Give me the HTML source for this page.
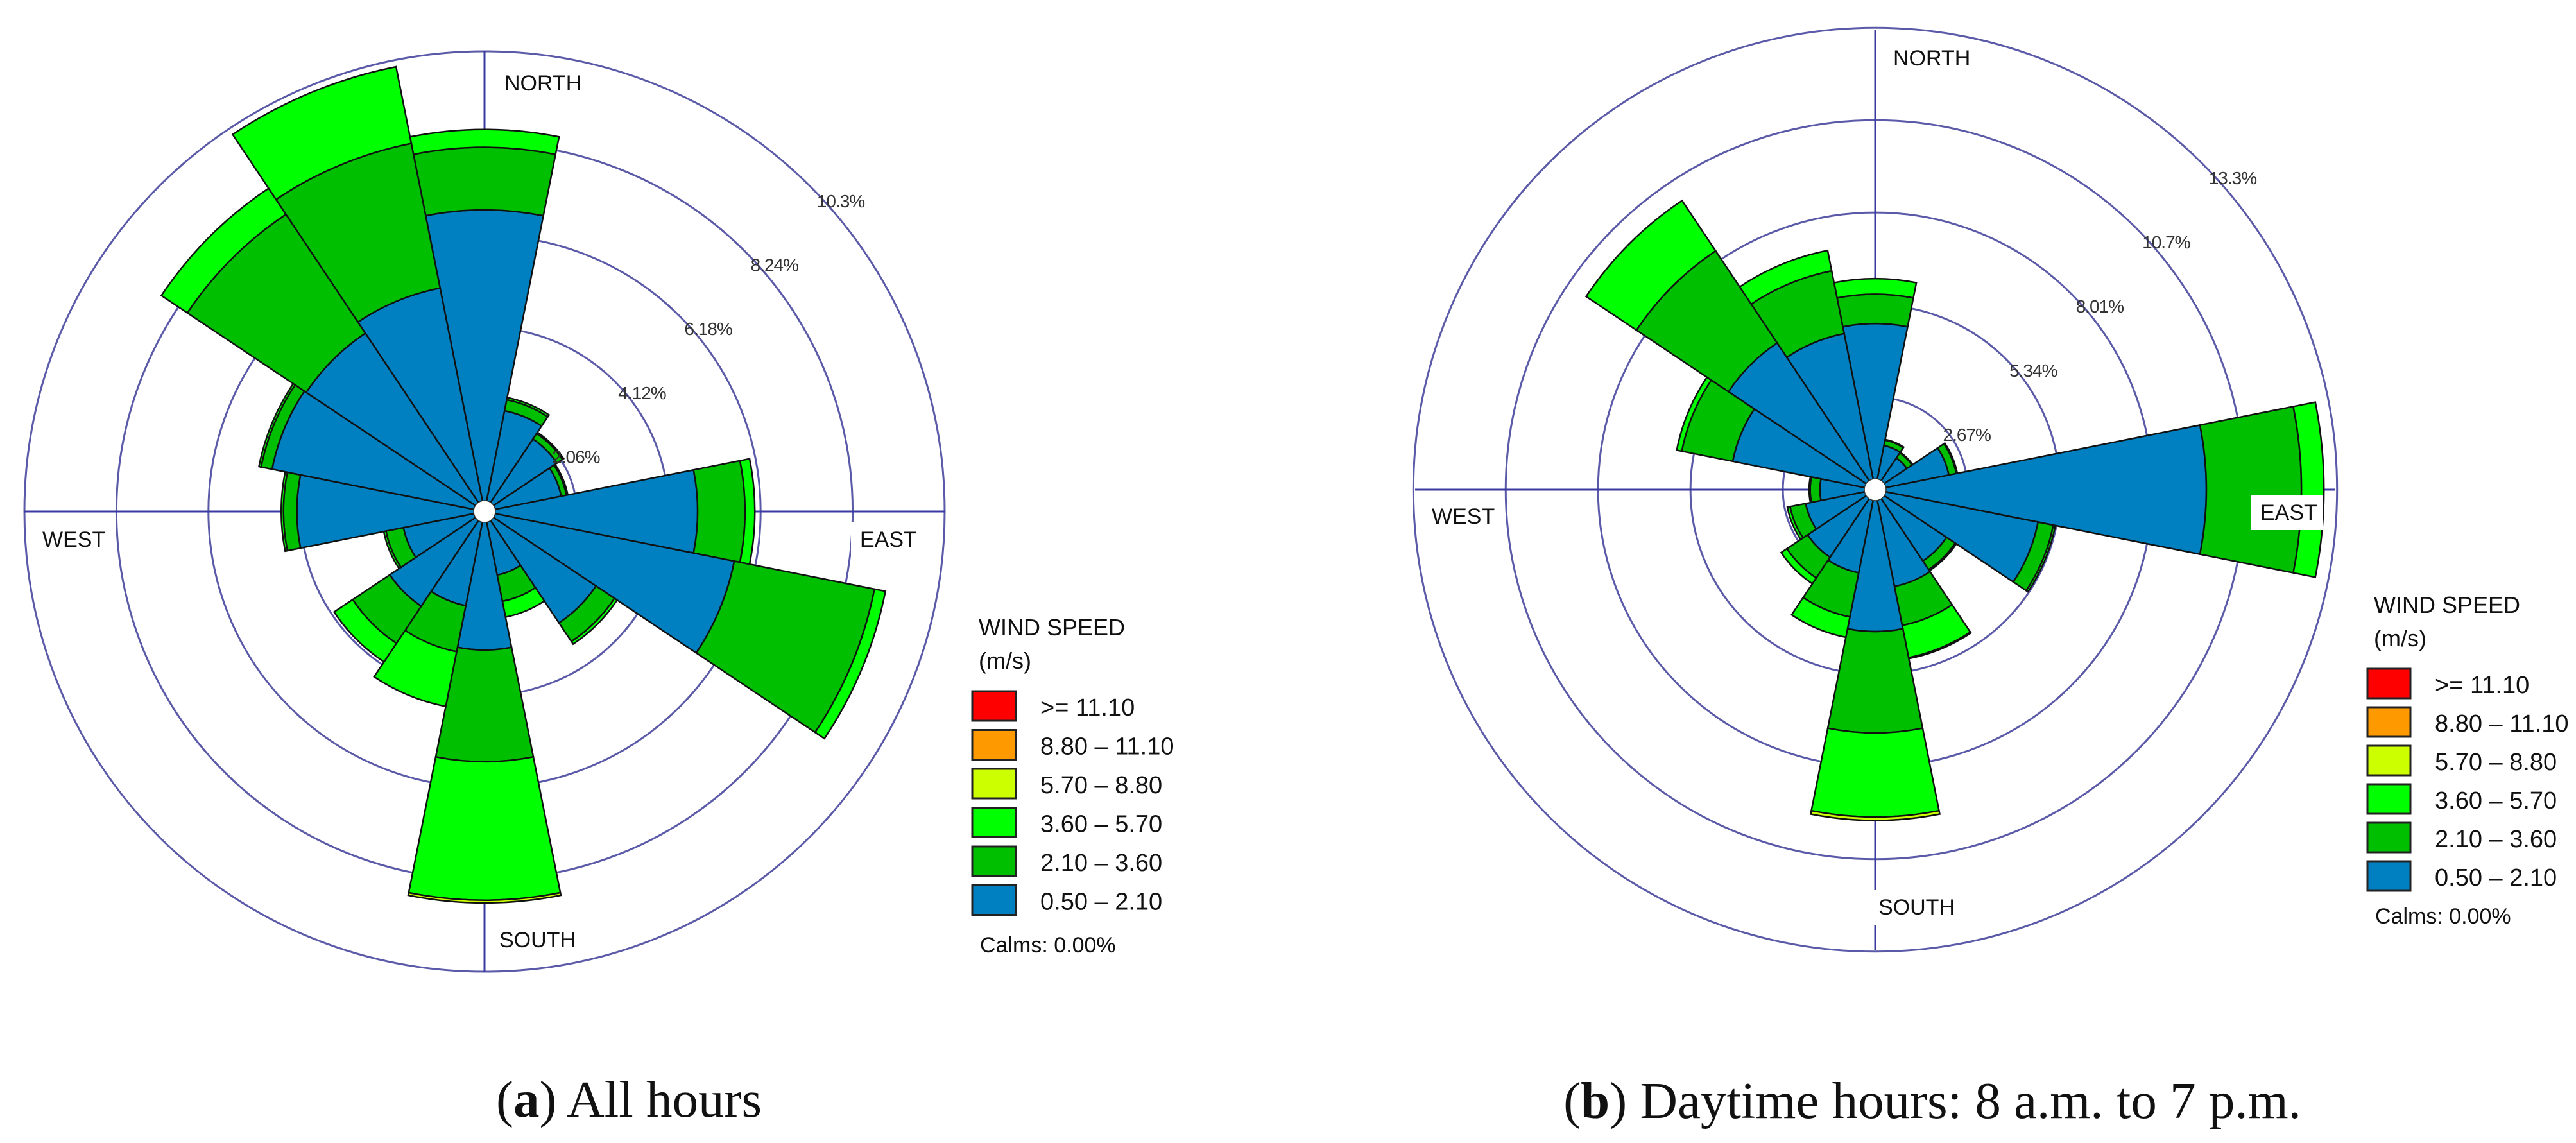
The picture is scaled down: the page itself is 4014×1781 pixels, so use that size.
<!DOCTYPE html>
<html><head><meta charset="utf-8"><style>
html,body{margin:0;padding:0;background:#fff;}
svg{display:block;}
</style></head><body>
<svg id="fig" width="4014" height="1781" viewBox="0 0 4014 1781" xmlns="http://www.w3.org/2000/svg" font-family="Liberation Sans, sans-serif"></svg>
<script>
// Data: direction labels and per-direction frequency (%) for each speed class
const dirs = ["N","NNE","NE","ENE","E","ESE","SE","SSE","S","SSW","SW","WSW","W","WNW","NW","NNW"];
const classNames = ["0.50 – 2.10","2.10 – 3.60","3.60 – 5.70","5.70 – 8.80"];
// Chart (a) All hours
const aBlue  = [6.75,2.3,1.95,1.75,4.77,5.7,3.0,1.45,3.1,2.15,2.55,1.85,4.2,4.85,4.8,5.1];
const aDark  = [1.4,0.25,0.15,0.12,1.06,3.2,0.5,0.6,2.5,1.05,1.0,0.4,0.3,0.25,3.2,3.3];
const aLight = [0.4,0.05,0.03,0.03,0.22,0.25,0.07,0.36,3.1,1.25,0.5,0.05,0.05,0.05,0.7,1.75];
const aYell  = [0,0,0,0,0,0,0,0,0.06,0,0,0,0,0,0,0];
const aTicks = ["2.06%","4.12%","6.18%","8.24%","10.3%"];
const aTickVals = [2.06,4.12,6.18,8.24,10.3];
// Chart (b) Daytime hours
const bBlue  = [4.8,1.3,1.1,2.17,9.57,4.8,2.48,2.85,4.1,2.45,2.35,2.05,1.6,4.2,5.1,4.6];
const bDark  = [0.85,0.16,0.18,0.22,2.75,0.45,0.3,1.15,2.93,1.3,0.72,0.46,0.28,1.5,3.2,1.85];
const bLight = [0.45,0.02,0.02,0.03,0.65,0.06,0.04,0.95,2.43,0.6,0.2,0.08,0.03,0.15,1.75,0.6];
const bYell  = [0,0,0,0,0,0,0,0.03,0.1,0,0,0,0,0,0,0];
const bTicks = ["2.67%","5.34%","8.01%","10.7%","13.3%"];
const bTickVals = [2.67,5.34,8.01,10.68,13.35];
const legendLabels = [">= 11.10","8.80 – 11.10","5.70 – 8.80","3.60 – 5.70","2.10 – 3.60","0.50 – 2.10"];
const legendColors = ["#ff0000","#ff9900","#ccff00","#00ff00","#00bf00","#0080c0"];
const segColors = ["#0080c0","#00bf00","#00ff00","#ccff00"];

const NS="http://www.w3.org/2000/svg";
const svg=document.getElementById('fig');
function mk(tag,attrs,parent){const e=document.createElementNS(NS,tag);for(const k in attrs)e.setAttribute(k,attrs[k]);(parent||svg).appendChild(e);return e;}

function drawRose(cfg){
  const g=mk('g',{});
  
  
  const {cx,cy,R,max}=cfg;
  const rs=v=>v/max*R; // radial axis
  const pt=(deg,r)=>[cx+r*Math.sin(deg*Math.PI/180), cy-r*Math.cos(deg*Math.PI/180)];
  cfg.tickVals.forEach((v,i)=>{
    const c=mk('circle',{cx:cx,cy:cy,r:rs(v),fill:'none',stroke:'#5a5aa8','stroke-width':3},g);
    
    
  });
  const ax1=mk('line',{x1:cx,y1:cy-R,x2:cx,y2:cy+R,stroke:'#3a3aa0','stroke-width':3},g);
  
  
  const ax2=mk('line',{x1:cx-R,y1:cy,x2:cx+R,y2:cy,stroke:'#3a3aa0','stroke-width':3},g);
  
  
  dirs.forEach((d,i)=>{
    const ang=i*22.5, a0=ang-11.25, a1=ang+11.25;
    let base=0;
    cfg.series.forEach((arr,s)=>{
      const v=arr[i]; if(v<=0) return;
      const r0=rs(base), r1=rs(base+v); base+=v;
      const p0=pt(a0,r0),p1=pt(a0,r1),p2=pt(a1,r1),p3=pt(a1,r0);
      const dstr=`M${p0[0]},${p0[1]} L${p1[0]},${p1[1]} A${r1},${r1} 0 0 1 ${p2[0]},${p2[1]} L${p3[0]},${p3[1]} `+(r0>0?`A${r0},${r0} 0 0 0 ${p0[0]},${p0[1]}`:'')+'Z';
      const p=mk('path',{d:dstr,fill:segColors[s],stroke:'#111','stroke-width':2.5,'stroke-linejoin':'miter'},g);
      
      
    });
  });
  const hole=mk('circle',{cx:cx,cy:cy,r:17,fill:'#fff',stroke:'#333','stroke-width':1.5},g);
  
  
  cfg.tickVals.forEach((v,i)=>{
    const p=pt(46,rs(v));
    const t=mk('text',{x:p[0]+2,y:p[1]+24,'font-size':28,fill:'#333','letter-spacing':'-1'},g);
    t.textContent=cfg.ticks[i];
    
    
  });
  cfg.dirLabels.forEach(L=>{
    const b=mk('rect',{x:L.x-14,y:L.y-38,width:L.w+28,height:54,fill:'#fff'},g);
    
    
    const t=mk('text',{x:L.x,y:L.y,'font-size':34,fill:'#111'},g);
    t.textContent=L.t;
    
    
  });
  const lg=mk('g',{},g);
  
  
  const {lx,ly}=cfg;
  const t1=mk('text',{x:lx+10,y:ly,'font-size':36,fill:'#111'},lg);t1.textContent='WIND SPEED';
  
  
  const t2=mk('text',{x:lx+10,y:ly+52,'font-size':36,fill:'#111'},lg);t2.textContent='(m/s)';
  
  
  legendLabels.forEach((lab,i)=>{
    const y=ly+cfg.rowTop+i*cfg.rowStep;
    const r=mk('rect',{x:lx,y:y,width:cfg.sw,height:46,fill:legendColors[i],stroke:'#222','stroke-width':3},lg);
    
    
    const t=mk('text',{x:lx+cfg.sw+38,y:y+38,'font-size':38,fill:'#111'},lg);
    t.textContent=lab;
    
    
  });
  const c=mk('text',{x:lx+12,y:ly+cfg.calmY,'font-size':34,fill:'#111'},lg);c.textContent='Calms: 0.00%';
  
  
}

drawRose({name:'wind-rose-all-hours',cx:755,cy:797,R:717,max:10.3,series:[aBlue,aDark,aLight,aYell],ticks:aTicks,tickVals:aTickVals,
  dirLabels:[{t:'NORTH',x:786,y:141,w:122},{t:'WEST',x:66,y:852,w:96},{t:'EAST',x:1340,y:852,w:84},{t:'SOUTH',x:778,y:1476,w:122}],
  lx:1515,ly:990,rowTop:87,rowStep:60.5,sw:68,calmY:494});
drawRose({name:'wind-rose-daytime',cx:2922,cy:763,R:717,max:13.3,series:[bBlue,bDark,bLight,bYell],ticks:bTicks,tickVals:bTickVals,
  dirLabels:[{t:'NORTH',x:2950,y:102,w:120},{t:'WEST',x:2231,y:816,w:96},{t:'EAST',x:3522,y:810,w:84},{t:'SOUTH',x:2927,y:1425,w:118}],
  lx:3689,ly:955,rowTop:87,rowStep:60,sw:67,calmY:484});

const cap1=mk('text',{x:980,y:1740,'font-size':81,'font-family':'Liberation Serif, serif','text-anchor':'middle',fill:'#111'});
cap1.innerHTML='(<tspan font-weight="bold">a</tspan>) All hours';


const cap2=mk('text',{x:3011,y:1742,'font-size':81,'font-family':'Liberation Serif, serif','text-anchor':'middle',fill:'#111'});
cap2.innerHTML='(<tspan font-weight="bold">b</tspan>) Daytime hours: 8 a.m. to 7 p.m.';


</script>
</body></html>
